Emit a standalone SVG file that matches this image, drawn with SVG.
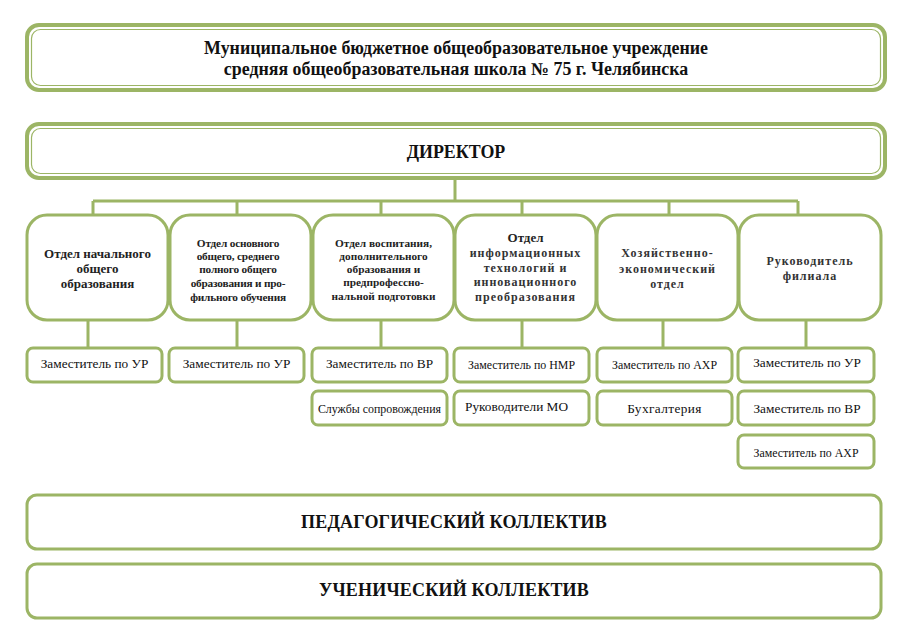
<svg xmlns="http://www.w3.org/2000/svg" width="902" height="634" viewBox="0 0 902 634">
<style>
.g{fill:#fff;stroke:#9CB565;stroke-width:3}
.g4{fill:#fff;stroke:#9CB565;stroke-width:4}
.in{fill:none;stroke:#9CB565;stroke-width:1.2}
.ln{stroke:#9CB565;stroke-width:3;fill:none}
.hb{font-family:"Liberation Serif","Times New Roman",serif;font-weight:bold;fill:#111;text-anchor:middle}
.dt{font-family:"Liberation Serif","Times New Roman",serif;font-weight:bold;fill:#222;text-anchor:middle;font-size:13px}
.d2{font-family:"Liberation Serif","Times New Roman",serif;font-weight:bold;fill:#222;text-anchor:middle;font-size:11.3px}
.ds{font-family:"Liberation Serif","Times New Roman",serif;font-weight:bold;fill:#333;text-anchor:middle;font-size:12px;letter-spacing:1px}
.st{font-family:"Liberation Serif","Times New Roman",serif;fill:#111;text-anchor:middle;font-size:13.3px}
.sc{font-family:"Liberation Serif","Times New Roman",serif;fill:#111;text-anchor:middle;font-size:11.9px}
</style>
<rect width="902" height="634" fill="#fff"/>
<g id="connectors">
<path class="ln" d="M455 178V201M93 201H798M93 201V215M237 201V215M381 201V215M522 201V215M669 201V215M798 201V215"/>
<path class="ln" d="M88 320V348M237 320V348M381 320V348M522 320V348M663 320V348M806 320V348"/>
</g>
<g id="school">
<rect class="g4" x="27" y="25" width="858" height="65" rx="12"/>
<rect class="in" x="31.5" y="29.5" width="849" height="56" rx="9"/>
<text class="hb" font-size="17.9" x="456" y="54">Муниципальное бюджетное общеобразовательное учреждение</text>
<text class="hb" font-size="17.9" x="456" y="75">средняя общеобразовательная школа № 75 г. Челябинска</text>
</g>
<g id="director">
<rect class="g4" x="27" y="124" width="858" height="54" rx="12"/>
<rect class="in" x="31.5" y="128.5" width="849" height="45" rx="9"/>
<text class="hb" font-size="17.9" x="456" y="158">ДИРЕКТОР</text>
</g>
<g id="dept1">
<rect class="g" x="27" y="215" width="141" height="105" rx="20"/>
<text class="dt" x="97.5" y="258">Отдел начального</text>
<text class="dt" x="97.5" y="273">общего</text>
<text class="dt" x="97.5" y="288">образования</text>
</g>
<g id="dept2">
<rect class="g" x="170" y="215" width="141" height="105" rx="20"/>
<text class="d2" letter-spacing="-0.2" x="238" y="247">Отдел основного</text>
<text class="d2" letter-spacing="-0.2" x="238" y="260">общего, среднего</text>
<text class="d2" letter-spacing="-0.2" x="238" y="273">полного общего</text>
<text class="d2" letter-spacing="-0.2" x="238" y="287">образования и про-</text>
<text class="d2" letter-spacing="-0.2" x="238" y="301">фильного обучения</text>
</g>
<g id="dept3">
<rect class="g" x="313" y="215" width="141" height="105" rx="20"/>
<text class="d2" x="383.5" y="247">Отдел воспитания,</text>
<text class="d2" x="383.5" y="260">дополнительного</text>
<text class="d2" x="383.5" y="273">образования и</text>
<text class="d2" x="383.5" y="286">предпрофессно-</text>
<text class="d2" x="383.5" y="300">нальной подготовки</text>
</g>
<g id="dept4">
<rect class="g" x="455" y="215" width="141" height="105" rx="20"/>
<text class="dt" x="525.5" y="242">Отдел</text>
<text class="ds" letter-spacing="1.3" x="525.5" y="257">информационных</text>
<text class="ds" letter-spacing="1.3" x="525.5" y="272">технологий и</text>
<text class="ds" letter-spacing="1.3" x="525.5" y="286">инновационного</text>
<text class="ds" letter-spacing="1.3" x="525.5" y="301">преобразования</text>
</g>
<g id="dept5">
<rect class="g" x="597" y="215" width="141" height="105" rx="20"/>
<text class="ds" x="667.5" y="257">Хозяйственно-</text>
<text class="ds" letter-spacing="1.2" x="667.5" y="273">экономический</text>
<text class="ds" letter-spacing="1.2" x="667.5" y="288">отдел</text>
</g>
<g id="dept6">
<rect class="g" x="739" y="215" width="142" height="105" rx="20"/>
<text class="ds" letter-spacing="0.9" x="810" y="265">Руководитель</text>
<text class="ds" letter-spacing="0.9" x="810" y="280">филиала</text>
</g>
<g id="sub1"><rect class="g" x="27" y="348" width="135" height="34" rx="6"/><text class="st" x="94.5" y="368">Заместитель по УР</text></g>
<g id="sub2"><rect class="g" x="169" y="348" width="135" height="34" rx="6"/><text class="st" x="236.5" y="368">Заместитель по УР</text></g>
<g id="sub3"><rect class="g" x="312" y="348" width="135" height="34" rx="6"/><text class="st" x="379.5" y="368">Заместитель по ВР</text></g>
<g id="sub4"><rect class="g" x="454" y="348" width="135" height="34" rx="6"/><text class="sc" font-size="12" x="521.5" y="369">Заместитель по НМР</text></g>
<g id="sub5"><rect class="g" x="597" y="348" width="135" height="34" rx="6"/><text class="sc" x="664.5" y="369">Заместитель по АХР</text></g>
<g id="sub6"><rect class="g" x="738" y="348" width="136" height="34" rx="6"/><text class="st" font-size="13.5" x="807" y="367">Заместитель по УР</text></g>
<g id="sub7"><rect class="g" x="312" y="391" width="135" height="34" rx="6"/><text class="sc" x="379.5" y="413">Службы сопровождения</text></g>
<g id="sub8"><rect class="g" x="454" y="391" width="135" height="34" rx="6"/><text class="st" x="516.5" y="411">Руководители МО</text></g>
<g id="sub9"><rect class="g" x="597" y="391" width="135" height="34" rx="6"/><text class="st" font-size="13.5" letter-spacing="0.4" x="664.5" y="413">Бухгалтерия</text></g>
<g id="sub10"><rect class="g" x="738" y="391" width="136" height="34" rx="6"/><text class="st" font-size="13.5" x="807" y="413">Заместитель по ВР</text></g>
<g id="sub11"><rect class="g" x="738" y="435" width="136" height="33" rx="6"/><text class="sc" x="806" y="457">Заместитель по АХР</text></g>
<g id="ped">
<rect class="g" x="27" y="495" width="854" height="54" rx="10"/>
<text class="hb" font-size="18" letter-spacing="0.2" x="454" y="528">ПЕДАГОГИЧЕСКИЙ КОЛЛЕКТИВ</text>
</g>
<g id="stud">
<rect class="g" x="27" y="564" width="854" height="54" rx="10"/>
<text class="hb" font-size="18" letter-spacing="0.2" x="454" y="596">УЧЕНИЧЕСКИЙ КОЛЛЕКТИВ</text>
</g>
</svg>
